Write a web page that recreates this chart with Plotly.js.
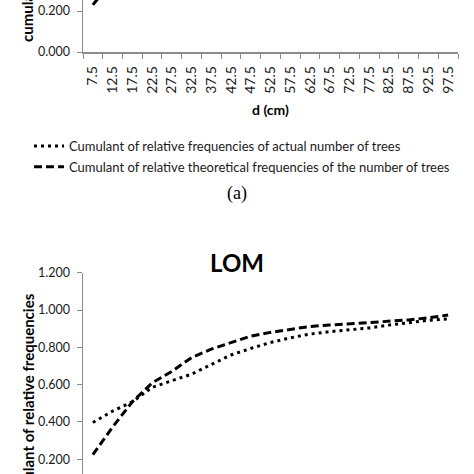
<!DOCTYPE html>
<html>
<head>
<meta charset="utf-8">
<script src="https://cdn.plot.ly/plotly-3.0.1.min.js"></script>
<style>
  html, body { margin: 0; padding: 0; background: #ffffff; }
  #chart { width: 474px; height: 474px; }
</style>
</head>
<body>
<div id="chart"></div>
<script>
// ---- data ----
const categories = ['7.5','12.5','17.5','22.5','27.5','32.5','37.5','42.5','47.5','52.5',
                    '57.5','62.5','67.5','72.5','77.5','82.5','87.5','92.5','97.5'];

// chart (a): only the start of its curve is visible in the picture
const topCategories = ['7.5','12.5'];
const topActual = [0.30, 0.42];
const topTheoretical = [0.23, 0.35];

// chart LOM
const lomActual = [0.397, 0.458, 0.508, 0.585, 0.621, 0.656, 0.708, 0.759, 0.794, 0.826,
                   0.851, 0.871, 0.884, 0.892, 0.904, 0.919, 0.933, 0.945, 0.952];
const lomTheoretical = [0.225, 0.373, 0.508, 0.609, 0.671, 0.745, 0.790, 0.826, 0.860, 0.880,
                        0.898, 0.912, 0.919, 0.926, 0.933, 0.940, 0.947, 0.958, 0.973];

const topYTicks = [0, 0.2];
const lomYTicks = [0.2, 0.4, 0.6, 0.8, 1.0, 1.2];
const seriesNames = ['Cumulant of relative frequencies of actual number of trees',
                     'Cumulant of relative theoretical frequencies of the number of trees'];
const yTitle = 'cumulant of relative frequencies';
const xTitle = 'd (cm)';
const chartTitle = 'LOM';
const caption = '(a)';

// ---- styles ----
const FONT = 'Lato, Carlito, "Open Sans", sans-serif';
const AXIS = '#8c8c8c';
const TXT = '#1a1a1a';
const W = 474, H = 474;
const px = v => v / W;
const py = v => 1 - v / H;
const dotStyle = {color: '#000', width: 3, dash: '3px,4px'};
const dashStyle = {color: '#000', width: 3, dash: '8px,4px'};
const fmt = v => v.toFixed(3);

const traces = [
  {x: topCategories, y: topActual, xaxis: 'x', yaxis: 'y', mode: 'lines', line: dotStyle,
   showlegend: false, hoverinfo: 'skip'},
  {x: topCategories, y: topTheoretical, xaxis: 'x', yaxis: 'y', mode: 'lines', line: dashStyle,
   showlegend: false, hoverinfo: 'skip'},
  {x: categories, y: lomActual, xaxis: 'x2', yaxis: 'y2', mode: 'lines', line: dotStyle,
   name: seriesNames[0], legendgroup: 'actual'},
  {x: categories, y: lomTheoretical, xaxis: 'x2', yaxis: 'y2', mode: 'lines', line: dashStyle,
   name: seriesNames[1], legendgroup: 'theoretical'}
];

const xDomain = [px(83), px(458)];
const baseY = {
  ticks: 'outside', ticklen: 5, tickcolor: AXIS, tickwidth: 1,
  showline: true, linecolor: AXIS, linewidth: 1.5, ticklabelstandoff: 4,
  showgrid: false, zeroline: false, automargin: false, fixedrange: true,
  tickfont: {family: FONT, size: 12.5, color: TXT}
};

const layout = {
  width: W, height: H,
  margin: {l: 0, r: 0, t: 0, b: 0, pad: 0},
  paper_bgcolor: '#ffffff', plot_bgcolor: '#ffffff',
  showlegend: true,
  title: {text: '<b>' + chartTitle + '</b>', x: 0.5, xanchor: 'center', xref: 'container',
          y: py(264), yanchor: 'middle', yref: 'container',
          font: {family: FONT, size: 24, color: '#000'}},
  xaxis: {
    domain: xDomain, anchor: 'y', type: 'category', categoryorder: 'array',
    categoryarray: categories, range: [-0.5, categories.length - 0.5],
    tickson: 'boundaries', ticks: 'outside', ticklen: 5, tickcolor: AXIS,
    showline: true, linecolor: AXIS, linewidth: 1.5, showgrid: false, zeroline: false,
    tickangle: -90, tickfont: {family: FONT, size: 14, color: TXT}, ticklabelstandoff: 7,
    automargin: false, fixedrange: true,
    title: {text: '<b>' + xTitle + '</b>', font: {family: FONT, size: 14, color: '#000'}, standoff: 12}
  },
  yaxis: Object.assign({}, baseY, {
    domain: [py(52), 1], anchor: 'x', range: [0, 0.2537],
    tickvals: topYTicks, ticktext: topYTicks.map(fmt)
  }),
  xaxis2: {
    domain: xDomain, anchor: 'y2', type: 'category', categoryorder: 'array',
    categoryarray: categories, range: [-0.5, categories.length - 0.5],
    showline: false, showticklabels: false, ticks: '', showgrid: false, zeroline: false,
    fixedrange: true
  },
  yaxis2: Object.assign({}, baseY, {
    domain: [0, py(272.7)], anchor: 'x2', range: [0.121, 1.2],
    tickvals: lomYTicks, ticktext: lomYTicks.map(fmt)
  }),
  legend: {
    x: px(29), xanchor: 'left', y: py(131), yanchor: 'top',
    font: {family: FONT, size: 13, color: TXT},
    bgcolor: 'rgba(0,0,0,0)', borderwidth: 0, tracegroupgap: 1
  },
  annotations: [
    {text: '<b>' + yTitle + '</b>', textangle: -90, xref: 'paper', yref: 'paper',
     x: px(27.5), xanchor: 'center', y: py(44), yanchor: 'bottom', showarrow: false,
     font: {family: FONT, size: 15, color: '#000'}},
    {text: '<b>' + yTitle + '</b>', textangle: -90, xref: 'paper', yref: 'paper',
     x: px(27.5), xanchor: 'center', y: py(291), yanchor: 'top', showarrow: false,
     font: {family: FONT, size: 15, color: '#000'}},
    {text: caption, xref: 'paper', yref: 'paper', x: px(237), xanchor: 'center',
     y: py(193), yanchor: 'middle', showarrow: false,
     font: {family: '"Liberation Serif", "DejaVu Serif", serif', size: 18, color: '#000'}}
  ]
};

Plotly.newPlot('chart', traces, layout, {staticPlot: true, displayModeBar: false});
</script>
</body>
</html>
